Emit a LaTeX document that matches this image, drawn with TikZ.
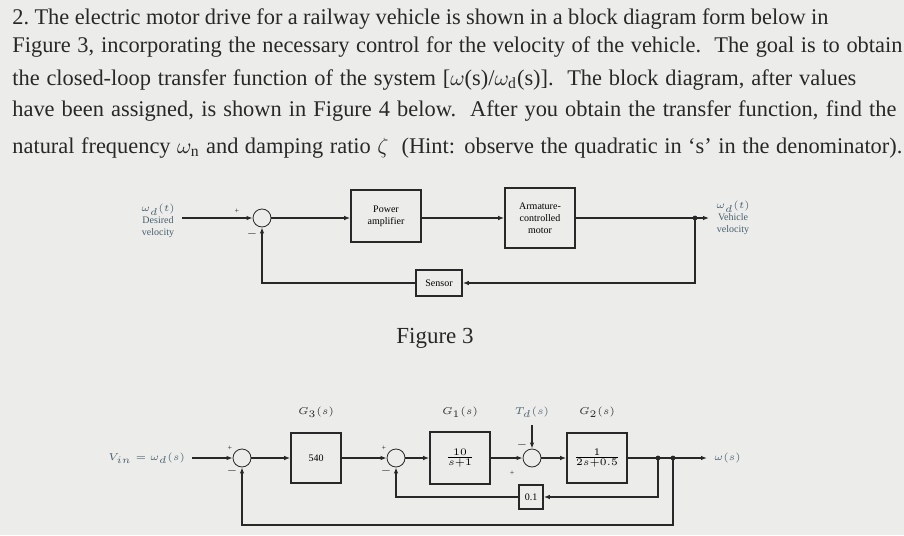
\documentclass[tikz,border=0pt]{standalone}
\usepackage{fontspec}
\setmainfont{Liberation Serif}
\usetikzlibrary{positioning,arrows.meta}
\definecolor{paper}{RGB}{236,236,234}
\definecolor{ink}{RGB}{40,40,40}
\definecolor{sig}{RGB}{70,95,110}
\tikzset{
  blk/.style={draw=ink,thick,inner sep=0pt,font=\fontsize{5}{6}\selectfont,align=center},
  sumj/.style={draw=ink,circle,minimum size=9pt,inner sep=0pt},
  sig/.style={->,>={Latex[length=3pt]},thick,draw=ink},
  lbl/.style={font=\fontsize{5}{6}\selectfont,text=sig,align=center},
  sgn/.style={font=\fontsize{4}{4}\selectfont,text=ink},
  para/.style={anchor=west,font=\fontsize{11.2}{12}\selectfont,text=ink,inner sep=0pt}
}
\begin{document}
\begin{tikzpicture}[x=0.5pt,y=-0.5pt]
	\fill[paper] (0,0) rectangle (904,535);
	\useasboundingbox (0,0) rectangle (904,535);
	
	% question text
	\node[para] (l1) at (12,19) {\makebox[408pt][s]{2.\ The electric motor drive for a railway vehicle is shown in a block diagram form below in}};
	\node[para] (l2) at (12,47) {\makebox[445pt][s]{Figure 3, incorporating the necessary control for the velocity of the vehicle.\ \ The goal is to obtain}};
	\node[para] (l3) at (12,80) {\makebox[422pt][s]{the closed-loop transfer function of the system [$\omega$(s)/$\omega_{\mathrm d}$(s)].\ \ The block diagram, after values}};
	\node[para] (l4) at (12,111) {\makebox[442pt][s]{have been assigned, is shown in Figure 4 below.\ \ After you obtain the transfer function, find the}};
	\node[para] (l5) at (12,148) {\makebox[445pt][s]{natural frequency $\omega_{\mathrm n}$ and damping ratio $\zeta$\ \ (Hint: observe the quadratic in `s' in the denominator).}};
	
	% Figure 3
	\node[lbl] (in) at (158,221) {$\omega_d(t)$\\Desired\\velocity};
	\node[sumj] (s0) at (262,218) {};
	\node[blk,minimum width=35pt,minimum height=26pt] (amp) at (386,216) {Power\\amplifier};
	\node[blk,minimum width=35pt,minimum height=30pt] (mot) at (540,218) {Armature-\\controlled\\motor};
	\node[lbl] (out) at (733,218) {$\omega_d(t)$\\Vehicle\\velocity};
	\node[blk,minimum width=23pt,minimum height=13pt] (sen) at (439,283) {Sensor};
	\coordinate (j0) at (695,218);
	\node[sgn] at (237,211) {+};
	\node[sgn] at (252,234) {$-$};
	\draw[sig] (in.east |- s0) -- (s0);
	\draw[sig] (s0) -- (amp.west |- s0);
	\draw[sig] (amp.east |- s0) -- (mot);
	\draw[sig] (mot) -- (out.west);
	\fill[ink] (j0) circle (1.2pt);
	\draw[sig] (j0) |- (sen);
	\draw[sig] (sen) -| (s0);
	
	\node[font=\fontsize{11.5}{13}\selectfont,text=ink] (fig) at (435,338) {Figure 3};
	
	% Figure 4
	\node[lbl,anchor=east] (vin) at (192,458) {$V_{in}=\omega_d(s)$};
	\node[sumj] (s1) at (242,458) {};
	\node[blk,minimum width=25pt,minimum height=25pt] (g3) at (316,458) {540};
	\node[sumj] (s2) at (396,458) {};
	\node[blk,minimum width=30pt,minimum height=26pt] (g1) at (460,458) {$\frac{10}{s+1}$};
	\node[sumj] (s3) at (532,458) {};
	\node[blk,minimum width=30pt,minimum height=25pt] (g2) at (597,458) {$\frac{1}{2s+0.5}$};
	\node[blk,minimum width=12pt,minimum height=12pt] (fb) at (531,497) {0.1};
	\node[lbl,anchor=west] (w) at (707,458) {$\omega(s)$};
	\coordinate (j1) at (658,458);
	\coordinate (j2) at (673,458);
	\coordinate (td) at (532,425);
	\node[lbl,above=0pt of td] (tdl) {$T_d(s)$};
	\node[lbl,text=ink] at (316,412) {$G_3(s)$};
	\node[lbl,text=ink] at (460,412) {$G_1(s)$};
	\node[lbl,text=ink] at (597,412) {$G_2(s)$};
	\node[sgn] at (230,448) {+};
	\node[sgn] at (232,471) {$-$};
	\node[sgn] at (384,448) {+};
	\node[sgn] at (386,471) {$-$};
	\node[sgn] at (522,445) {$-$};
	\node[sgn] at (512,473) {+};
	\draw[sig] (vin) -- (s1);
	\draw[sig] (s1) -- (g3);
	\draw[sig] (g3) -- (s2);
	\draw[sig] (s2) -- (g1);
	\draw[sig] (g1) -- (s3);
	\draw[sig] (td) -- (s3);
	\draw[sig] (s3) -- (g2);
	\draw[sig] (g2) -- (w);
	\fill[ink] (j1) circle (1.2pt) (j2) circle (1.2pt);
	\draw[sig] (j1) |- (fb);
	\draw[sig] (fb) -| (s2);
	\draw[sig] (j2) -- ++(0,67) -| (s1);
\end{tikzpicture}
\end{document}
